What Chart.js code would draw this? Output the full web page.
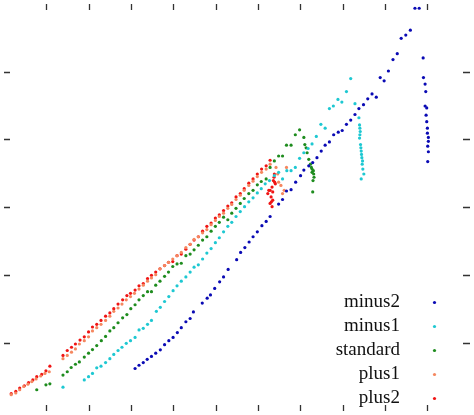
<!DOCTYPE html>
<html>
<head>
<meta charset="utf-8">
<script src="https://cdn.jsdelivr.net/npm/chart.js@4/dist/chart.umd.min.js"></script>
<style>
  body { margin: 0; background: #fff; }
  canvas { display: block; }
</style>
</head>
<body>
<canvas id="c" width="474" height="415"></canvas>
<script>
// values (arbitrary units, no tick labels in the original)
const minus2 = [[400,130],[412,140],[425,148],[437,158],[450,167],[463,177],[477,187],[490,203],[503,215],[516,225],[529,240],[541,255],[555,273],[568,283],[578,303],[605,330],[620,345],[630,355],[643,375],[658,395],[670,410],[684,433],[710,463],[722,485],[735,500],[748,517],[760,533],[773,548],[787,567],[800,580],[812,595],[838,633],[850,647],[862,673],[876,677],[890,700],[905,720],[915,737],[930,750],[942,760],[955,775],[968,795],[980,813],[993,823],[1006,845],[1020,853],[1032,858],[1045,877],[1058,890],[1071,907],[1083,925],[1097,937],[1110,955],[1123,970],[1136,960],[1148,1020],[1160,1010],[1173,1040],[1187,1075],[1200,1093],[1212,1140],[1226,1150],[1240,1165],[1254,1232],[1267,1232],
  [1279,1080],[1280,1020],[1285,1000],[1287,977],[1285,933],[1290,927],[1288,905],[1290,885],[1292,865],[1292,850],[1295,837],[1295,825],[1293,810],[1295,793],[1293,763]];
const minus1 = [[180,73],[245,95],[258,105],[270,115],[283,132],[296,137],[310,148],[323,160],[335,173],[348,185],[360,195],[373,207],[386,215],[400,225],[412,248],[425,253],[438,265],[450,277],[465,305],[477,317],[490,335],[503,350],[516,368],[528,383],[541,397],[555,410],[568,425],[580,440],[593,447],[606,465],[619,483],[632,497],[645,515],[657,530],[670,548],[683,565],[695,577],[708,595],[721,610],[734,625],[747,640],[760,652],[773,667],[785,680],[797,695],[810,705],[825,720],[838,730],[850,710],[863,735],[876,735],[889,745],[902,773],[915,790],[928,803],[940,817],[953,840],[967,877],[980,865],[993,925],[1005,933],[1019,953],[1031,945],[1045,977],[1058,1017],[1071,940],
  [1083,897],[1085,875],[1087,855],[1085,835],[1088,815],[1090,795],[1092,775],[1093,755],[1095,740],[1098,725],[1090,710],[1086,865],[1089,805],[1094,765],[1086,845],[1091,785]];
const standard = [[100,65],[128,80],[140,83],[180,110],[193,120],[205,133],[218,143],[230,150],[245,165],[258,177],[270,188],[283,200],[297,215],[310,228],[323,245],[335,255],[348,270],[362,285],[375,295],[387,313],[400,325],[412,340],[425,353],[438,365],[450,365],[463,385],[476,397],[490,412],[502,425],[515,442],[528,450],[541,452],[555,475],[568,480],[580,493],[593,507],[606,523],[619,533],[632,550],[645,565],[657,577],[670,593],[683,585],[695,605],[708,620],[721,635],[733,650],[747,665],[760,675],[773,692],[785,702],[800,710],[812,745],[825,765],[838,780],[850,780],[862,813],[876,813],[889,845],[902,860],
  [915,837],[918,815],[922,805],[925,790],[930,770],[935,755],[940,740],[945,725],[943,705],[942,670],[938,745],[946,715],[940,730],[944,735]];
const plus1 = [[22,50],[36,55],[48,65],[60,75],[73,82],[85,90],[98,98],[112,107],[125,115],[138,120],[180,160],[193,170],[206,180],[218,190],[230,205],[245,215],[258,227],[270,245],[283,255],[296,265],[310,277],[323,290],[335,305],[348,315],[360,327],[373,340],[386,350],[398,360],[412,373],[425,385],[438,397],[450,407],[463,417],[476,435],[490,445],[502,455],[515,465],[528,475],[541,485],[555,500],[568,510],[580,525],[593,533],[606,545],[619,555],[632,570],[645,583],[657,595],[670,605],[683,620],[695,632],[708,647],[721,660],[733,675],[747,690],[760,703],[773,717],[786,730],[800,740],[812,755],
  [830,745],[838,700],[845,690],[850,665],[855,675],[862,745],[835,725]];
const plus2 = [[22,53],[36,60],[48,70],[62,77],[75,87],[88,95],[100,105],[115,112],[128,123],[140,137],[180,170],[193,185],[206,195],[218,205],[232,217],[245,227],[258,242],[270,257],[283,265],[296,277],[310,290],[323,300],[335,313],[348,327],[362,340],[375,353],[386,360],[400,370],[412,383],[425,390],[438,405],[450,415],[463,425],[476,435],[490,445],[502,455],[515,457],[528,475],[541,480],[555,495],[568,510],[580,523],[593,533],[606,550],[619,565],[632,575],[645,590],[657,600],[670,613],[683,627],[695,637],[708,655],[721,665],[733,680],[747,697],[760,710],[773,725],[786,740],[800,750],[812,767],
  [825,725],[822,705],[828,695],[818,685],[812,675],[805,665],[815,655],[820,645],[812,635],[818,625],[826,700],[820,670],[808,675],[816,640],[824,715]];

const seriesNames = ['minus2', 'minus1', 'standard', 'plus1', 'plus2'];
const seriesData = [minus2, minus1, standard, plus1, plus2];
const seriesColors = ['#0a0ab4', '#1ec8d2', '#1e8c1e', '#f5875f', '#f01414'];

const xTicks = [129, 258, 387, 517, 646, 775, 904, 1034, 1163, 1292];
const yTicks = [207, 416, 624, 832, 1038];

// inward tick marks on all four sides, like the original frame
const tickMarks = {
    id: 'tickMarks',
    afterDraw(chart) {
        const ctx = chart.ctx;
        const { left, right, top, bottom } = chart.chartArea;
        const xs = chart.scales.x, ys = chart.scales.y;
        ctx.save();
        ctx.strokeStyle = '#333';
        ctx.lineWidth = 1.3;
        ctx.beginPath();
        xTicks.forEach(v => {
            const px = Math.round(xs.getPixelForValue(v)) + 0.5;
            ctx.moveTo(px, top); ctx.lineTo(px, top + 6);
            ctx.moveTo(px, bottom); ctx.lineTo(px, bottom - 6);
        });
        yTicks.forEach(v => {
            const py = Math.round(ys.getPixelForValue(v)) + 0.5;
            ctx.moveTo(left, py); ctx.lineTo(left + 6, py);
            ctx.moveTo(right, py); ctx.lineTo(right - 7, py);
        });
        ctx.stroke();
        ctx.restore();
    }
};

// legend in the lower right: right-aligned labels, one dot each
const dotLegend = {
    id: 'dotLegend',
    afterDraw(chart) {
        const ctx = chart.ctx;
        ctx.save();
        ctx.font = '19px "Liberation Serif", serif';
        ctx.textAlign = 'right';
        ctx.textBaseline = 'middle';
        seriesNames.forEach((name, i) => {
            const y = 302 + i * 24;
            ctx.fillStyle = '#111';
            ctx.fillText(name, 400, y);
            ctx.fillStyle = seriesColors[i];
            ctx.beginPath();
            ctx.arc(434.5, y + 0.5, 1.6, 0, Math.PI * 2);
            ctx.fill();
        });
        ctx.restore();
    }
};

new Chart(document.getElementById('c').getContext('2d'), {
    type: 'scatter',
    data: {
        datasets: seriesData.map((pts, i) => ({
            label: seriesNames[i],
            data: pts.map(p => ({ x: p[0], y: p[1] })),
            backgroundColor: seriesColors[i],
            borderWidth: 0,
            pointRadius: 1.6
        }))
    },
    options: {
        responsive: false,
        animation: false,
        clip: false,
        layout: { padding: 0 },
        scales: {
            x: { display: false, min: 0, max: 1422 },
            y: { display: false, min: 0, max: 1245 }
        },
        plugins: {
            legend: { display: false },
            tooltip: { enabled: false }
        }
    },
    plugins: [tickMarks, dotLegend]
});
</script>
</body>
</html>
